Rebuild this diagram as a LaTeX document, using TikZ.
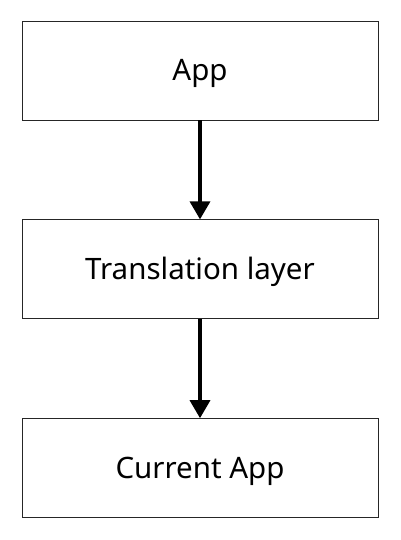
\documentclass[tikz,border=0pt]{standalone}
\usepackage{fontspec}
\setmainfont{Noto Sans}
\usetikzlibrary{positioning, arrows.meta}
\tikzstyle{layer} = [rectangle, minimum width=356pt, minimum height=99pt, text centered, text height=21pt, text depth=0pt, draw=black!85, line width=0.8pt, font=\fontsize{29.5pt}{34pt}\selectfont]
\tikzstyle{arrow} = [line width=3.5pt,-{Triangle[length=18pt,width=20pt]}]
\begin{document}
\begin{tikzpicture}[node distance=99pt]
\useasboundingbox (0,0) rectangle (400pt,540pt);
\node[layer] (app) at (200pt,469.5pt) {App};
\node[layer, below=of app] (trans) {Translation layer};
\node[layer, below=of trans] (current) {Current App};

\draw[arrow] (app) -- (trans);
\draw[arrow] (trans) -- (current);
\end{tikzpicture}
\end{document}
